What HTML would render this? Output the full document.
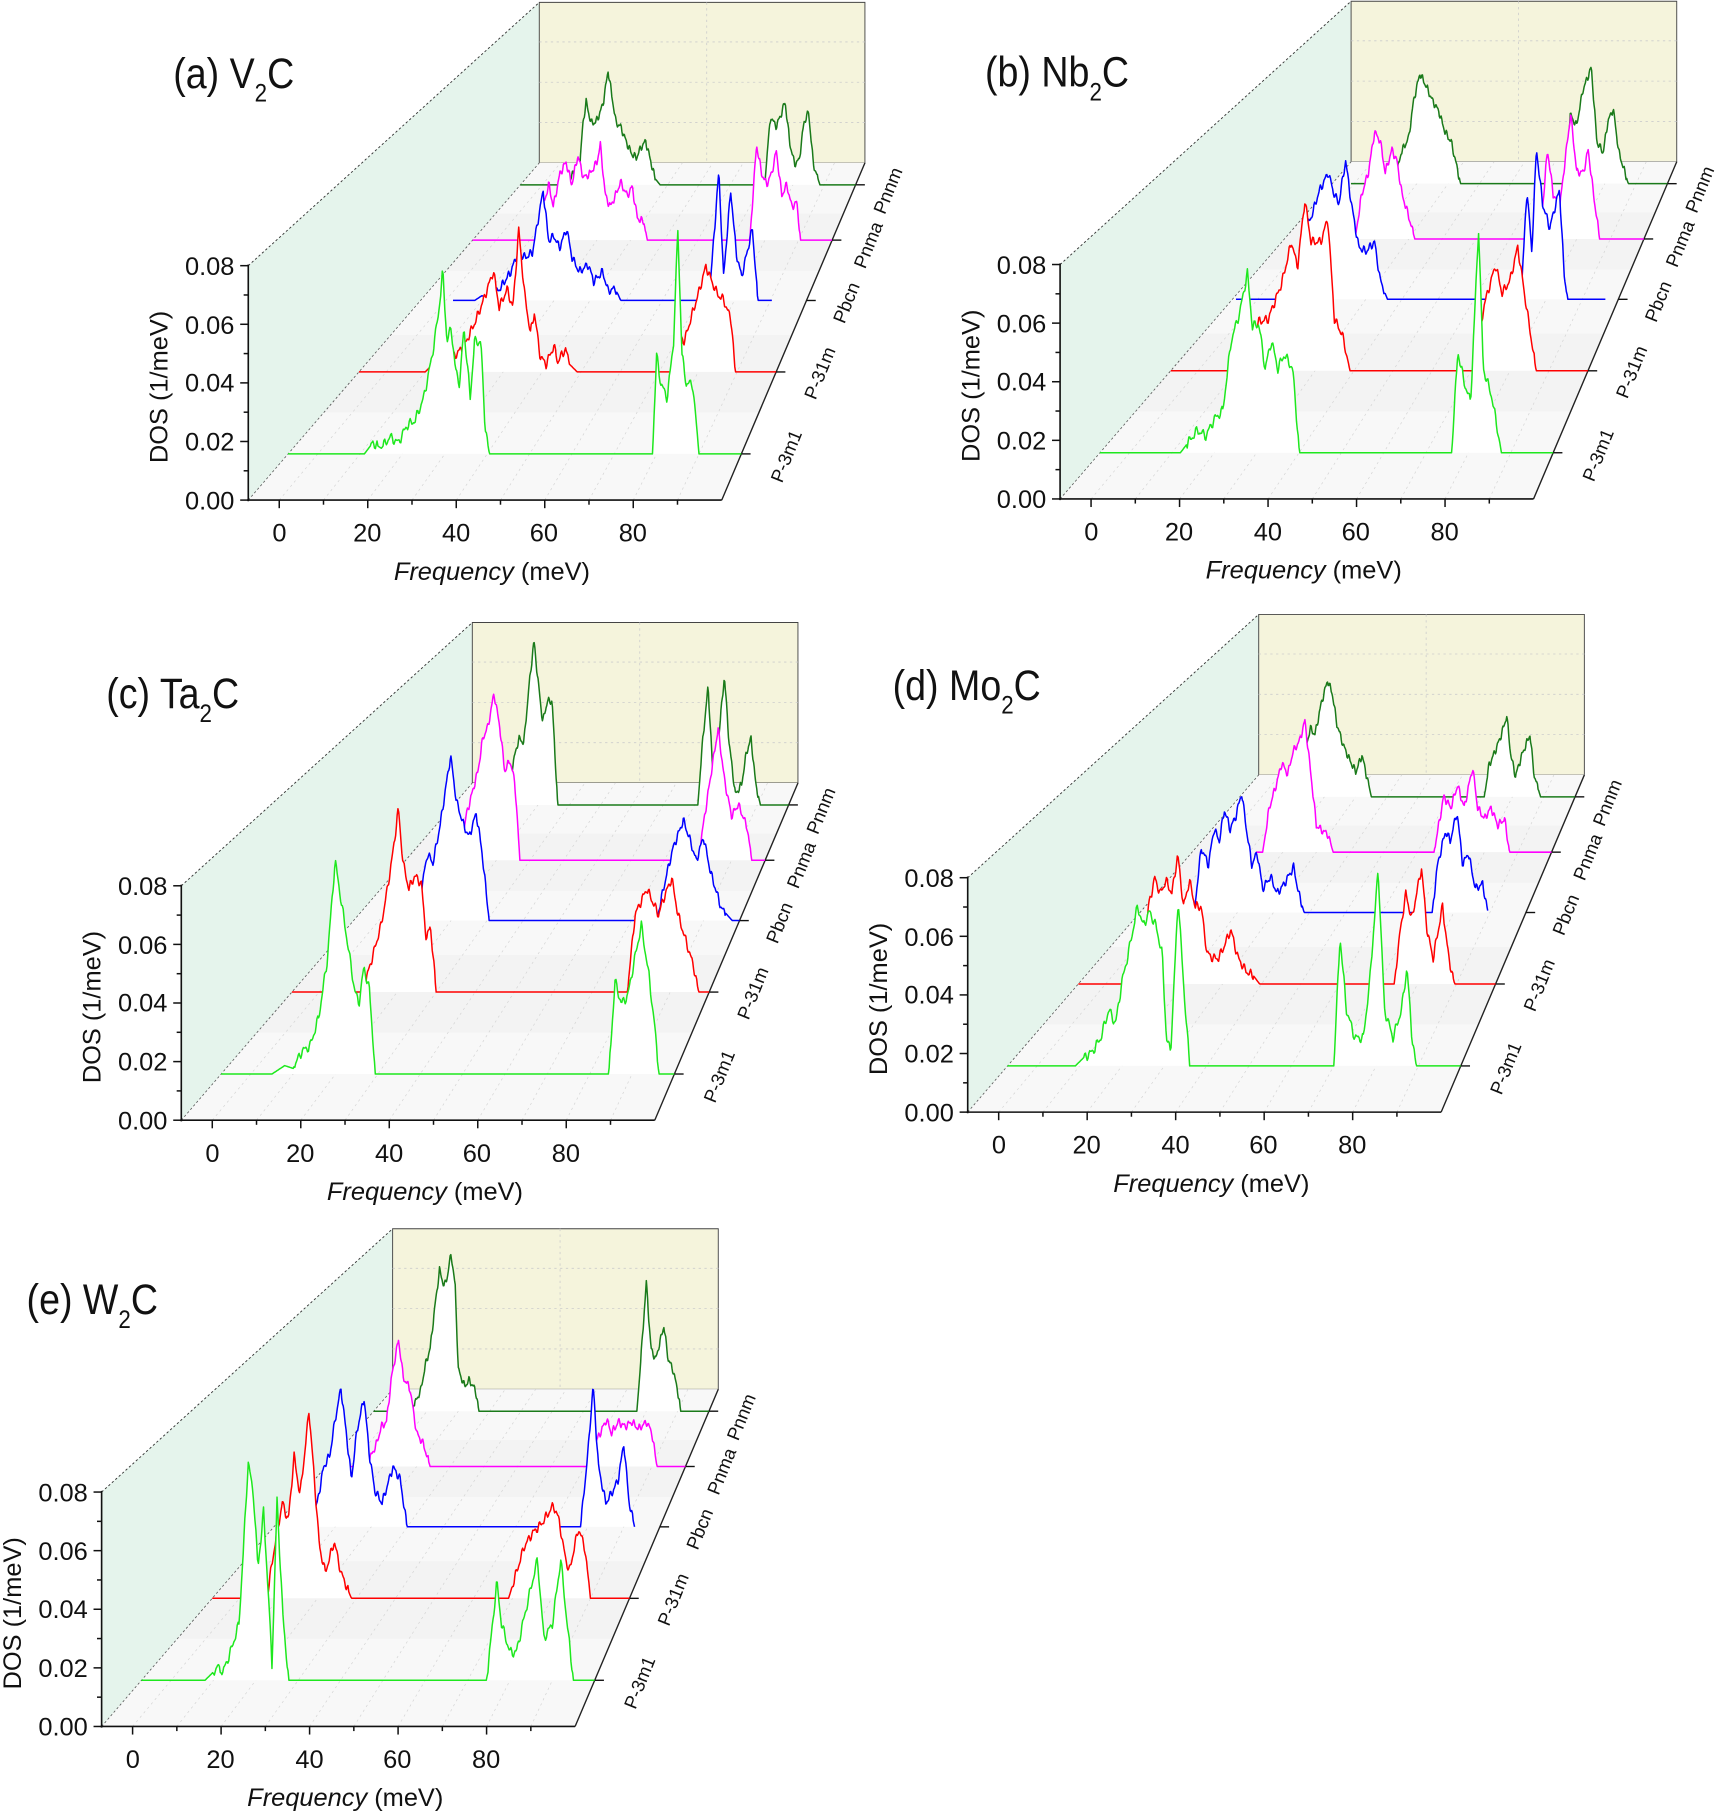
<!DOCTYPE html>
<html><head><meta charset="utf-8">
<style>
html,body{margin:0;padding:0;background:#fff;}
svg{display:block;}
text{font-family:"Liberation Sans",sans-serif;fill:#111;}
.tk{font-size:22px;}
.ax{font-size:22px;}
.ttl{font-size:37px;}
.sub{font-size:22px;}
.sl{font-size:16px;}
</style></head>
<body>
<svg id="s" xmlns="http://www.w3.org/2000/svg" width="1716" height="1812" viewBox="0 0 1486 1569">
<rect width="1486" height="1569" fill="#fff"/>
<g id="p0" transform="translate(0,0)"></g>
<g id="p1" transform="translate(703,-1)"></g>
<g id="p2" transform="translate(-58,537)"></g>
<g id="p3" transform="translate(623,530)"></g>
<g id="p4" transform="translate(-127,1062)"></g>

<g transform="translate(0,0)"><g class="txt">
<text class="ttl" x="150" y="76" transform="translate(150,0) scale(0.88,1) translate(-150,0)">(a) V<tspan class="sub" dy="12">2</tspan><tspan dy="-12">C</tspan></text>
<text class="tk" x="203" y="441" text-anchor="end">0.00</text><text class="tk" x="203" y="390" text-anchor="end">0.02</text><text class="tk" x="203" y="339" text-anchor="end">0.04</text><text class="tk" x="203" y="289" text-anchor="end">0.06</text><text class="tk" x="203" y="238" text-anchor="end">0.08</text>
<text class="tk" x="242" y="469" text-anchor="middle">0</text><text class="tk" x="318" y="469" text-anchor="middle">20</text><text class="tk" x="395" y="469" text-anchor="middle">40</text><text class="tk" x="471" y="469" text-anchor="middle">60</text><text class="tk" x="548" y="469" text-anchor="middle">80</text>
<text class="ax" x="426" y="502" text-anchor="middle"><tspan font-style="italic">Frequency</tspan> (meV)</text>
<text class="ax" transform="translate(145,335) rotate(-90)" text-anchor="middle">DOS (1/meV)</text>
<text class="sl" transform="translate(686,397) rotate(-68)" text-anchor="middle">P-3m1</text>
<text class="sl" transform="translate(715,325) rotate(-68)" text-anchor="middle">P-31m</text>
<text class="sl" transform="translate(738,264) rotate(-68)" text-anchor="middle">Pbcn</text>
<text class="sl" transform="translate(757,214) rotate(-68)" text-anchor="middle">Pnma</text>
<text class="sl" transform="translate(774,167) rotate(-68)" text-anchor="middle">Pnnm</text>
</g></g>

<g transform="translate(703,-1)"><g class="txt">
<text class="ttl" x="150" y="76" transform="translate(150,0) scale(0.88,1) translate(-150,0)">(b) Nb<tspan class="sub" dy="12">2</tspan><tspan dy="-12">C</tspan></text>
<text class="tk" x="203" y="441" text-anchor="end">0.00</text><text class="tk" x="203" y="390" text-anchor="end">0.02</text><text class="tk" x="203" y="339" text-anchor="end">0.04</text><text class="tk" x="203" y="289" text-anchor="end">0.06</text><text class="tk" x="203" y="238" text-anchor="end">0.08</text>
<text class="tk" x="242" y="469" text-anchor="middle">0</text><text class="tk" x="318" y="469" text-anchor="middle">20</text><text class="tk" x="395" y="469" text-anchor="middle">40</text><text class="tk" x="471" y="469" text-anchor="middle">60</text><text class="tk" x="548" y="469" text-anchor="middle">80</text>
<text class="ax" x="426" y="502" text-anchor="middle"><tspan font-style="italic">Frequency</tspan> (meV)</text>
<text class="ax" transform="translate(145,335) rotate(-90)" text-anchor="middle">DOS (1/meV)</text>
<text class="sl" transform="translate(686,397) rotate(-68)" text-anchor="middle">P-3m1</text>
<text class="sl" transform="translate(715,325) rotate(-68)" text-anchor="middle">P-31m</text>
<text class="sl" transform="translate(738,264) rotate(-68)" text-anchor="middle">Pbcn</text>
<text class="sl" transform="translate(757,214) rotate(-68)" text-anchor="middle">Pnma</text>
<text class="sl" transform="translate(774,167) rotate(-68)" text-anchor="middle">Pnnm</text>
</g></g>

<g transform="translate(-58,537)"><g class="txt">
<text class="ttl" x="150" y="76" transform="translate(150,0) scale(0.88,1) translate(-150,0)">(c) Ta<tspan class="sub" dy="12">2</tspan><tspan dy="-12">C</tspan></text>
<text class="tk" x="203" y="441" text-anchor="end">0.00</text><text class="tk" x="203" y="390" text-anchor="end">0.02</text><text class="tk" x="203" y="339" text-anchor="end">0.04</text><text class="tk" x="203" y="289" text-anchor="end">0.06</text><text class="tk" x="203" y="238" text-anchor="end">0.08</text>
<text class="tk" x="242" y="469" text-anchor="middle">0</text><text class="tk" x="318" y="469" text-anchor="middle">20</text><text class="tk" x="395" y="469" text-anchor="middle">40</text><text class="tk" x="471" y="469" text-anchor="middle">60</text><text class="tk" x="548" y="469" text-anchor="middle">80</text>
<text class="ax" x="426" y="502" text-anchor="middle"><tspan font-style="italic">Frequency</tspan> (meV)</text>
<text class="ax" transform="translate(145,335) rotate(-90)" text-anchor="middle">DOS (1/meV)</text>
<text class="sl" transform="translate(686,397) rotate(-68)" text-anchor="middle">P-3m1</text>
<text class="sl" transform="translate(715,325) rotate(-68)" text-anchor="middle">P-31m</text>
<text class="sl" transform="translate(738,264) rotate(-68)" text-anchor="middle">Pbcn</text>
<text class="sl" transform="translate(757,214) rotate(-68)" text-anchor="middle">Pnma</text>
<text class="sl" transform="translate(774,167) rotate(-68)" text-anchor="middle">Pnnm</text>
</g></g>

<g transform="translate(623,530)"><g class="txt">
<text class="ttl" x="150" y="76" transform="translate(150,0) scale(0.88,1) translate(-150,0)">(d) Mo<tspan class="sub" dy="12">2</tspan><tspan dy="-12">C</tspan></text>
<text class="tk" x="203" y="441" text-anchor="end">0.00</text><text class="tk" x="203" y="390" text-anchor="end">0.02</text><text class="tk" x="203" y="339" text-anchor="end">0.04</text><text class="tk" x="203" y="289" text-anchor="end">0.06</text><text class="tk" x="203" y="238" text-anchor="end">0.08</text>
<text class="tk" x="242" y="469" text-anchor="middle">0</text><text class="tk" x="318" y="469" text-anchor="middle">20</text><text class="tk" x="395" y="469" text-anchor="middle">40</text><text class="tk" x="471" y="469" text-anchor="middle">60</text><text class="tk" x="548" y="469" text-anchor="middle">80</text>
<text class="ax" x="426" y="502" text-anchor="middle"><tspan font-style="italic">Frequency</tspan> (meV)</text>
<text class="ax" transform="translate(145,335) rotate(-90)" text-anchor="middle">DOS (1/meV)</text>
<text class="sl" transform="translate(686,397) rotate(-68)" text-anchor="middle">P-3m1</text>
<text class="sl" transform="translate(715,325) rotate(-68)" text-anchor="middle">P-31m</text>
<text class="sl" transform="translate(738,264) rotate(-68)" text-anchor="middle">Pbcn</text>
<text class="sl" transform="translate(757,214) rotate(-68)" text-anchor="middle">Pnma</text>
<text class="sl" transform="translate(774,167) rotate(-68)" text-anchor="middle">Pnnm</text>
</g></g>

<g transform="translate(-127,1062)"><g class="txt">
<text class="ttl" x="150" y="76" transform="translate(150,0) scale(0.88,1) translate(-150,0)">(e) W<tspan class="sub" dy="12">2</tspan><tspan dy="-12">C</tspan></text>
<text class="tk" x="203" y="441" text-anchor="end">0.00</text><text class="tk" x="203" y="390" text-anchor="end">0.02</text><text class="tk" x="203" y="339" text-anchor="end">0.04</text><text class="tk" x="203" y="289" text-anchor="end">0.06</text><text class="tk" x="203" y="238" text-anchor="end">0.08</text>
<text class="tk" x="242" y="469" text-anchor="middle">0</text><text class="tk" x="318" y="469" text-anchor="middle">20</text><text class="tk" x="395" y="469" text-anchor="middle">40</text><text class="tk" x="471" y="469" text-anchor="middle">60</text><text class="tk" x="548" y="469" text-anchor="middle">80</text>
<text class="ax" x="426" y="502" text-anchor="middle"><tspan font-style="italic">Frequency</tspan> (meV)</text>
<text class="ax" transform="translate(145,335) rotate(-90)" text-anchor="middle">DOS (1/meV)</text>
<text class="sl" transform="translate(686,397) rotate(-68)" text-anchor="middle">P-3m1</text>
<text class="sl" transform="translate(715,325) rotate(-68)" text-anchor="middle">P-31m</text>
<text class="sl" transform="translate(738,264) rotate(-68)" text-anchor="middle">Pbcn</text>
<text class="sl" transform="translate(757,214) rotate(-68)" text-anchor="middle">Pnma</text>
<text class="sl" transform="translate(774,167) rotate(-68)" text-anchor="middle">Pnnm</text>
</g></g>
</svg>
<script>
(function(){
var NS="http://www.w3.org/2000/svg";
var T=[0.137,0.38,0.592,0.771,0.935];
var COL=["#1ee81e","#ff0000","#0000ff","#ff00ff","#1a7a1a"];
function pt(t,f,h){return [215+252*t+(f+7)/107*(410-128*t),433-292*t-h*2537.5*(1-0.312*t)];}
function el(g,tag,a){var e=document.createElementNS(NS,tag);for(var k in a)e.setAttribute(k,a[k]);g.appendChild(e);return e;}
function P(a){return a.map(function(p){return p[0].toFixed(1)+","+p[1].toFixed(1);}).join(" ");}
var D=[
[{s:-7,b:[[[11,0],[13,.004],[15,.002],[17,.006],[19,.004],[21,.01],[23,.012],[25,.02],[27,.035],[28.5,.05],[29.5,.065],[30.5,.04],[31.5,.045],[32.5,.03],[33.5,.025],[34.5,.045],[36,.02],[37,.04],[38.5,.04],[39.5,.01],[40.5,0]],[[79,0],[80,.035],[81,.025],[82.5,.02],[84,.04],[85,.08],[86,.035],[87,.025],[88.5,.025],[90,0]]]},
 {s:-7,b:[[[10,0],[12,.003],[14,.001],[16,.004],[20,.01],[23,.02],[25,.028],[27.5,.039],[29,.025],[31,.032],[32.5,.025],[34,.055],[35.5,.03],[37,.015],[38,.023],[39.5,.006],[41,.003],[43,.01],[44,.004],[46,.009],[47,.003],[49,0]],[[73,0],[75,.014],[76.5,.012],[78,.02],[80,.03],[82,.041],[83.5,.035],[85,.03],[86.5,.028],[88.5,.02],[89.5,0]]]},
 {s:2,b:[[[8,0],[10,.002],[12,.001],[15,.005],[18,.012],[20,.02],[22,.018],[24,.02],[27,.046],[28.5,.025],[30,.027],[31.5,.022],[33.5,.03],[35,.018],[37,.012],[39.5,.015],[41,.008],[43.5,.012],[45,.004],[47,.005],[48.5,0]],[[73,0],[74.5,.03],[75.7,.054],[77,.01],[79,.046],[80.5,.02],[82,.01],[85,.03],[86.5,0]]],e:90.5},
 {s:-7,b:[[[12,0],[13,.01],[15.7,.025],[17,.015],[19,.03],[20.8,.035],[22.5,.025],[24.3,.038],[26,.028],[28,.03],[30,.035],[31,.043],[32.5,.02],[34,.015],[35.5,.02],[37,.026],[39,.02],[40.5,.024],[42,.01],[44,.008],[45,0]],[[75.5,0],[77.5,.043],[79,.03],[80.5,.025],[82,.03],[83.4,.04],[85,.02],[86.5,.025],[88,.015],[89.5,.017],[90.6,0]]]},
 {s:-7,b:[[[8,0],[10,.006],[12,.01],[13,.03],[14,.04],[15.5,.03],[17,.03],[18.5,.035],[19.5,.04],[21,.055],[22,.045],[23.5,.03],[25,.028],[27,.02],[28.5,.015],[30,.013],[31.5,.018],[33,.021],[34.5,.012],[36,.003],[37.6,0]],[[71,0],[72,.02],[73,.033],[74.5,.028],[76,.033],[77.5,.04],[79,.02],[80.5,.01],[82,.012],[83.5,.03],[85,.035],[86.5,.01],[88.6,0]]]}],
[{s:-7,b:[[[12,0],[14,.004],[16,.008],[18,.006],[20,.012],[22,.015],[24,.04],[26,.05],[27.8,.064],[29,.045],[30.5,.046],[32,.03],[33.5,.04],[35,.03],[36.5,.035],[38.5,.03],[40.1,0]],[[76,0],[77.5,.036],[79,.025],[80.5,.018],[82.4,.08],[83.5,.03],[85.5,.02],[87.8,0]]]},
 {s:-7,b:[[[8,0],[12,.004],[15.5,.019],[18,.02],[21.5,.034],[24,.05],[25.5,.04],[27.4,.066],[29,.05],[31.5,.05],[33.3,.059],[35,.02],[37,.014],[39,0]],[[71,0],[73.3,.025],[76.3,.041],[78,.03],[80,.035],[82,.048],[84,.027],[86.7,0]]]},
 {s:-6,b:[[[7,0],[9,.005],[11,.01],[13.2,.029],[15,.035],[17,.045],[19.6,.053],[21,.045],[22.5,.04],[24.4,.058],[26,.04],[28,.022],[30,.02],[32.4,.024],[34,.008],[36,0]],[[73,0],[74.7,.046],[76,.02],[77.3,.063],[79,.04],[81,.03],[83.7,.046],[85,.01],[86,0]]],e:96.5},
 {s:-1,b:[[[14,0],[16,.02],[18,.03],[19.8,.048],[21.5,.044],[23,.03],[25,.04],[26.5,.035],[28,.02],[30,.01],[31.8,0]],[[69,0],[71.3,.04],[73,.02],[75,.015],[76.5,.035],[78.2,.056],[80,.03],[82,.03],[83.4,.04],[85,.02],[86.8,0]]]},
 {s:-1,b:[[[13,0],[15,.015],[17.4,.022],[19,.04],[21,.053],[23,.047],[25,.04],[27,.035],[29,.025],[31,.02],[32.5,.01],[34,0]],[[67,0],[69,.033],[71,.028],[73,.045],[75.7,.056],[77.5,.02],[79.5,.015],[81,.03],[82.7,.036],[84.5,.015],[87.5,0]]]}],
[{s:-7,b:[[[5,0],[8,.003],[10,.002],[12,.008],[14,.01],[16,.02],[18,.04],[19.9,.076],[21.5,.06],[23,.045],[24.5,.03],[25.5,.025],[26.7,.038],[28,.03],[29.4,0]],[[84.5,0],[86,.033],[87.5,.025],[89,.028],[90.5,.04],[92.2,.053],[94,.035],[95.5,.015],[96.3,0]]]},
 {s:-7,b:[[[11,0],[13,.01],[15.9,.026],[17.5,.04],[19,.055],[20.3,.071],[21.5,.05],[23,.04],[24.5,.045],[26.2,.042],[27.5,.02],[28.5,.026],[30,0]],[[79,0],[81,.03],[84,.04],[85.5,.035],[87,.03],[88.5,.037],[90.4,.044],[92,.03],[94,.02],[96,.01],[97.3,0]]]},
 {s:5,b:[[[10,0],[12,.015],[13.5,.028],[15,.024],[17,.04],[19.9,.069],[21.5,.05],[23.5,.04],[25,.035],[27,.045],[28.5,.03],[30.6,0]],[[77,0],[79.6,.018],[81.5,.03],[84.4,.042],[86,.035],[88,.025],[90,.035],[92,.02],[95,.005],[98,0]]]},
 {s:5,b:[[[9,0],[11,.02],[12.4,.028],[14.5,.04],[16,.055],[17.5,.06],[19.3,.075],[21,.06],[22.5,.04],[24,.045],[25.5,.035],[27,0]],[[80,0],[82,.02],[84,.04],[86,.059],[88,.035],[90,.02],[92,.025],[94.6,.015],[96,0]]]},
 {s:5,b:[[[10,0],[12,.02],[13.9,.032],[15.5,.03],[17,.055],[18.7,.079],[20,.06],[21.5,.04],[23,.05],[24.5,.05],[26.3,0]],[[71,0],[72.5,.03],[74.3,.057],[76,.01],[77.5,.03],[79.5,.062],[81,.03],[83,.005],[85,.01],[86.5,.025],[88,.032],[89.5,.01],[91,0]]]}],
[{s:-7,b:[[[9,0],[11,.003],[13,.005],[15,.01],[16.9,.02],[18.5,.015],[20,.03],[21.5,.04],[23.7,.057],[25,.05],[26.5,.055],[28,.05],[29.5,.04],[30.5,.01],[31.5,.005],[33.3,.06],[34.5,.03],[36,0]],[[70,0],[71.5,.046],[73,.02],[75,.01],[77,.01],[78.5,.03],[80.5,.07],[82,.02],[84,.01],[86,.02],[87.3,.035],[88.5,.01],[89.5,0]]]},
 {s:-7,b:[[[9,0],[11,.03],[12.6,.041],[14,.035],[15.5,.04],[17,.035],[18.5,.05],[20,.03],[21.5,.04],[23,.03],[24.5,.03],[26,.012],[27.5,.01],[29,.01],[30.5,.015],[32.1,.021],[34,.01],[36,.005],[38,.003],[39.5,0]],[[74,0],[75.5,.02],[77,.035],[78.5,.025],[81,.045],[82.5,.02],[84,.01],[86.4,.03],[88,.01],[89.5,0]]]},
 {s:6,b:[[[8,0],[10,.027],[12,.02],[13.5,.035],[15,.03],[16.4,.043],[18,.035],[19.5,.04],[21.2,.05],[22.5,.035],[24,.02],[25.5,.025],[27,.01],[29.2,.015],[31,.008],[33,.012],[35.6,.019],[37,.008],[38.5,0]],[[74,0],[75.5,.02],[77.7,.034],[79,.03],[80.9,.042],[82.5,.02],[84,.025],[86,.01],[88,.012],[89.5,0]]],e:89.5},
 {s:12,b:[[[14,0],[16,.02],[18,.03],[19.7,.04],[21.5,.035],[23,.045],[25,.05],[26.6,.059],[28,.04],[30,.012],[31.5,.01],[33.4,.008],[35,0]],[[65,0],[67.9,.025],[70,.02],[72,.03],[74,.02],[76.5,.038],[78,.02],[80,.015],[82,.02],[84,.012],[86,.015],[87.5,0]]]},
 {s:10,b:[[[12,0],[13.5,.02],[15.5,.033],[17,.03],[19,.045],[21,.056],[22.5,.05],[24,.035],[26,.025],[28,.018],[30,.012],[32,.02],[33.5,.01],[35,0]],[[71,0],[72.5,.015],[74.5,.022],[76.5,.03],[78.2,.039],[79.5,.02],[81,.01],[83,.02],[85.6,.03],[87,.01],[89,0]]]}],
[{s:-7,b:[[[8,0],[10,.003],[11,.005],[12,.002],[14,.01],[16,.02],[17,.045],[18.2,.078],[19.5,.065],[20.5,.04],[21.8,.06],[23,.03],[23.8,.005],[25,.064],[26.5,.02],[27.8,0]],[[74.5,0],[76.9,.035],[78,.02],[80,.01],[81.5,.01],[83,.02],[84.5,.03],[86.5,.043],[88,.015],[90,.02],[92,.043],[93.5,.02],[95,0]]]},
 {s:-7,b:[[[7,0],[9,.02],[11,.037],[12.5,.03],[14,.055],[15.5,.04],[17,.06],[17.8,.073],[19,.05],[20.5,.02],[22,.01],[24.3,.022],[26,.01],[28.7,0]],[[69,0],[71,.01],[73,.02],[75,.025],[77.5,.029],[80.5,.036],[82,.03],[83,.02],[84.5,.01],[86.9,.027],[88.5,.02],[90,0]]]},
 {s:3,b:[[[3,0],[5,.01],[6.8,.025],[8.5,.03],[10,.045],[11.6,.058],[13,.04],[14.5,.02],[16,.04],[18,.054],[19.5,.03],[21,.015],[23,.01],[26,.025],[28,.02],[29.9,0]],[[78,0],[80,.03],[81.5,.059],[83,.025],[85,.01],[87,.015],[88.5,.02],[90,.035],[91.5,.01],[93,0]]],e:93},
 {s:-7,b:[[[5,0],[8,.01],[9.5,.018],[11,.02],[12.5,.04],[14.6,.057],[16,.04],[18,.035],[20,.015],[22,.01],[24,0]],[[71,0],[73,.01],[76.5,.021],[78,.015],[80,.02],[82,.018],[84,.02],[86,.017],[88.5,.02],[90,.015],[91.5,0]]]},
 {s:-7,b:[[[5,0],[8,.01],[9.6,.023],[11,.03],[12.5,.05],[14,.068],[15.5,.06],[16.5,.065],[17.7,.076],[19,.06],[20,.02],[22,.012],[23.5,.015],[25.5,.01],[26.6,0]],[[77,0],[78.5,.03],[80,.062],[81.5,.03],[83,.025],[85.6,.041],[87,.025],[88.5,.02],[90,.01],[91,0]]]}]
];
function hAt(bands,f){for(var i=0;i<bands.length;i++){var b=bands[i];if(f>=b[0][0]&&f<=b[b.length-1][0]){for(var j=0;j<b.length-1;j++){if(f>=b[j][0]&&f<=b[j+1][0]){var u=(f-b[j][0])/(b[j+1][0]-b[j][0]||1);var h=b[j][1]+(b[j+1][1]-b[j][1])*u;if(h>0.003)h+=0.0012*Math.sin(f*4.1)+0.0007*Math.sin(f*7.3);return Math.max(h,0);}}}}return 0;}
for(var p=0;p<5;p++){
 var g=document.getElementById("p"+p);
 el(g,"polygon",{points:"215,433 215,230 467,2 467,141",fill:"#e5f4ec"});
 el(g,"polygon",{points:"467,2 749,2 749,141 467,141",fill:"#f5f4dc",stroke:"#444","stroke-width":"0.8"});
 el(g,"polygon",{points:"215,433 625,433 749,141 467,141",fill:"#f3f3f3"});
 var tb=[0,0.26,0.49,0.68,0.85,1];
 for(var k=0;k<5;k+=2){var a=pt(tb[k],-7,0),b=pt(tb[k],100,0),c=pt(tb[k+1],100,0),d=pt(tb[k+1],-7,0);el(g,"polygon",{points:P([a,b,c,d]),fill:"#f8f8f8"});}
 for(var f=0;f<=90;f+=10){el(g,"line",{x1:pt(0,f,0)[0],y1:433,x2:pt(1,f,0)[0],y2:141,stroke:"#d4d4d4","stroke-width":"0.6","stroke-dasharray":"2,3"});}
 [0.02,0.04,0.06].forEach(function(h){var y=141-h*2537.5*0.688;el(g,"line",{x1:467,y1:y,x2:749,y2:y,stroke:"#ccc","stroke-width":"0.7","stroke-dasharray":"2,3"});});
 el(g,"line",{x1:612,y1:2,x2:612,y2:141,stroke:"#ccc","stroke-width":"0.7","stroke-dasharray":"2,3"});
 el(g,"line",{x1:215,y1:230,x2:467,y2:2,stroke:"#333","stroke-width":"0.8","stroke-dasharray":"2,2"});
 el(g,"line",{x1:215,y1:433,x2:467,y2:141,stroke:"#555","stroke-width":"0.7","stroke-dasharray":"2,2"});
 el(g,"line",{x1:625,y1:433,x2:749,y2:141,stroke:"#222","stroke-width":"1.2"});
 el(g,"line",{x1:215,y1:229,x2:215,y2:434,stroke:"#111","stroke-width":"1.4"});
 el(g,"line",{x1:214,y1:433,x2:625,y2:433,stroke:"#111","stroke-width":"1.4"});
 for(var i=0;i<=8;i++){var y=433-i*25.375;el(g,"line",{x1:i%2?211:208,y1:y,x2:215,y2:y,stroke:"#111","stroke-width":"1.3"});}
 for(var f=0;f<=90;f+=10){var x=pt(0,f,0)[0];el(g,"line",{x1:x,y1:433,x2:x,y2:f%20?437:440,stroke:"#111","stroke-width":"1.3"});}
 for(var s=4;s>=0;s--){
  var S=D[p][s],t=T[s],e=S.e||100,pts=[];
  for(var f=S.s;f<=e+0.001;f+=0.2){pts.push(pt(t,f,hAt(S.b,f)));}
  var b0=pt(t,S.s,0),b1=pt(t,e,0);
  el(g,"polygon",{points:P(pts.concat([b1,b0])),fill:"#fff"});
  el(g,"polyline",{points:P(pts),fill:"none",stroke:COL[s],"stroke-width":"1.3","stroke-linejoin":"round"});
  var r=pt(t,100,0);el(g,"line",{x1:r[0],y1:r[1],x2:r[0]+8,y2:r[1],stroke:"#111","stroke-width":"1.2"});
 }
}
})();
</script>
</body></html>
